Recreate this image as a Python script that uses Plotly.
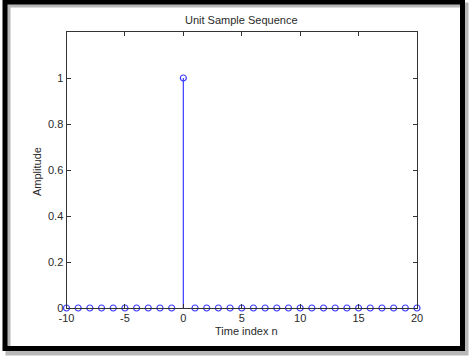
import plotly.graph_objects as go

n = list(range(-10, 21))
amplitude = [1 if k == 0 else 0 for k in n]
x_ticks = [-10, -5, 0, 5, 10, 15, 20]
y_ticks = [0, 0.2, 0.4, 0.6, 0.8, 1]
y_tick_labels = ["0", "0.2", "0.4", "0.6", "0.8", "1"]

W, H = 474, 358
FONT = "Liberation Sans, Arial, sans-serif"
BLUE = "#3b3bff"
TXT = "#2a2a2a"

stem_x, stem_y = [], []
for k, v in zip(n, amplitude):
    stem_x += [k, k, None]
    stem_y += [0, v, None]

fig = go.Figure()
fig.add_trace(go.Scatter(x=stem_x, y=stem_y, mode="lines",
                         line=dict(color=BLUE, width=1.2), hoverinfo="skip",
                         showlegend=False))
fig.add_trace(go.Scatter(x=n, y=amplitude, mode="markers",
                         marker=dict(symbol="circle-open", size=6,
                                     color=BLUE, line=dict(width=1.2, color=BLUE)),
                         showlegend=False, cliponaxis=False))

def px(x):
    return x / W

def py(y):
    return 1 - y / H

# outer frame shadow and frame
shapes = [
    dict(type="rect", xref="paper", yref="paper",
         x0=px(8), x1=px(466), y0=py(5), y1=py(353),
         line=dict(color="#b8b8b8", width=5), layer="below"),
    dict(type="rect", xref="paper", yref="paper",
         x0=px(5), x1=px(462.5), y0=py(2), y1=py(348.5),
         line=dict(color="#000000", width=5), layer="above"),
]

def label(text, x, y, angle=0):
    return dict(text=text, xref="paper", yref="paper", x=px(x), y=py(y),
                xanchor="center", yanchor="middle", textangle=angle,
                showarrow=False, font=dict(family=FONT, size=11, color=TXT))

fig.update_layout(
    template="none",
    width=W, height=H,
    margin=dict(l=0, r=0, t=0, b=0, autoexpand=False),
    paper_bgcolor="white", plot_bgcolor="white",
    shapes=shapes,
    showlegend=False,
    font=dict(family=FONT, size=11, color=TXT),
    annotations=[
        label("Unit Sample Sequence", 241, 20),
        label("Time index n", 246, 331),
        label("Amplitude", 37, 172, -90),
    ],
    xaxis=dict(domain=[px(66.5), px(417)], range=[-10, 20], automargin=False,
               tickvals=x_ticks, ticktext=[str(t) for t in x_ticks],
               ticks="inside", ticklen=4, tickcolor="#333",
               showline=True, linecolor="#333", linewidth=1, mirror="ticks",
               showgrid=False, zeroline=False,
               tickfont=dict(family=FONT, size=11, color=TXT)),
    yaxis=dict(domain=[py(308), py(32)], range=[0, 1.2], automargin=False,
               tickvals=y_ticks, ticktext=y_tick_labels,
               ticks="inside", ticklen=4, tickcolor="#333",
               showline=True, linecolor="#333", linewidth=1, mirror="ticks",
               showgrid=False, zeroline=False,
               tickfont=dict(family=FONT, size=11, color=TXT)),
)

fig.write_html("out.html")
